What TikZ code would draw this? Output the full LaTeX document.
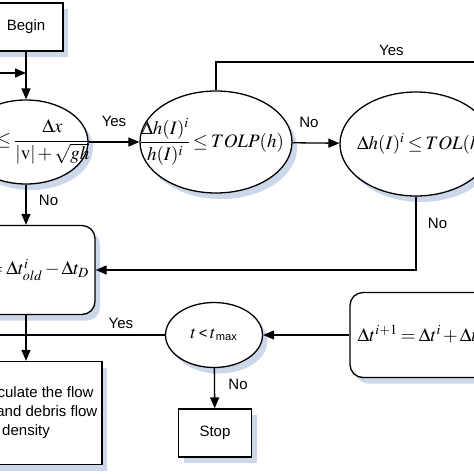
\documentclass[tikz,border=0pt]{standalone}
\usepackage{amsmath}
\usepackage{mathptmx}
\usepackage{fontspec}
\setmainfont{Liberation Sans}
\usetikzlibrary{arrows.meta,shapes,positioning,shadows}
\definecolor{shadowblue}{RGB}{204,216,234}
\newcommand{\eqsize}{\fontsize{19}{23}\selectfont\thickmuskip=3mu\medmuskip=2mu}

\begin{document}
\begin{tikzpicture}[x=1pt, y=-1pt, >={Triangle[length=11pt,width=9pt]}, line width=1.3pt,
  every node/.style={font=\fontsize{15}{18}\selectfont},
  flat/.style={drop shadow={fill=shadowblue, opacity=1, shadow xshift=5pt, shadow yshift=-6pt}},
  box/.style={rectangle, draw, fill=white, flat},
  rbox/.style={rectangle, rounded corners=13pt, draw, fill=white, flat},
  test/.style={ellipse, draw, fill=white, flat, inner sep=0pt}]
  \useasboundingbox (0,0) rectangle (474,474);
  \clip (0,0) rectangle (474,474);

  \node (begin) [box, minimum width=74pt, minimum height=48pt] at (26,27) {Begin};
  \node (cond1) [test, minimum width=124pt, minimum height=84pt,
    label={[font=\eqsize, xshift=7pt]center:{$\Delta t \le \dfrac{\Delta x}{|\mathrm{v}|+\sqrt{gh}}$}}] at (26,142) {};
  \node (cond2) [test, minimum width=152pt, minimum height=102pt,
    label={[font=\eqsize, xshift=-4pt]center:{$\dfrac{\Delta h(I)^i}{h(I)^i}\le TOLP(h)$}}] at (216,142) {};
  \node (cond3) [test, minimum width=152pt, minimum height=104pt,
    label={[font=\eqsize, xshift=6pt]center:{$\Delta h(I)^i \le TOL(h)$}}] at (416,144) {};
  \node (update) [rbox, minimum width=138pt, minimum height=89pt, font=\eqsize] at (26,270)
    {$\Delta t^i = \Delta t^i_{old} - \Delta t_D$};
  \node (calc) [box, minimum width=152pt, minimum height=103pt, align=center,
    font=\fontsize{15}{19}\selectfont] at (26,413)
    {To calculate the flow\\depth and debris flow\\density};
  \node (cond4) [test, minimum width=97pt, minimum height=65pt] at (214,335)
    {{\fontsize{18}{20}\selectfont$t$}\,<\,{\fontsize{18}{20}\selectfont$t$}$_{\text{max}}$};
  \node (stop) [box, minimum width=73pt, minimum height=48pt] at (215,433) {Stop};
  \node (grow) [rbox, minimum width=140pt, minimum height=85pt, font=\eqsize] at (420,335)
    {$\Delta t^{i+1} = \Delta t^i + \Delta t_I$};

  \coordinate (merge) at (26,73);
  \coordinate (rside) at (490,62);

  \draw [->] (begin) -- (cond1);
  \draw [->] (cond1) -- node[above=11pt] {Yes} (cond2);
  \draw [->] (cond2) -- node[above=11pt, pos=0.35] {No} (cond3);
  \draw (cond2.north) |- node[above=2pt, pos=0.82] {Yes} (rside);
  \draw [->] (cond1) -- node[right=9pt, pos=0.4] {No} (update);
  \draw [->] (cond3.south) |- node[right=8pt, pos=0.18] {No} (update.east);
  \draw [->] (update) -- (calc);
  \draw [->] (grow) -- (cond4);
  \draw [->] (cond4) -- node[right=10pt, pos=0.4] {No} (stop);
  \draw [->] (cond4.west) -- node[above=2pt, pos=0.22] {Yes} ++(-200,0) |- (merge);
\end{tikzpicture}
\end{document}
